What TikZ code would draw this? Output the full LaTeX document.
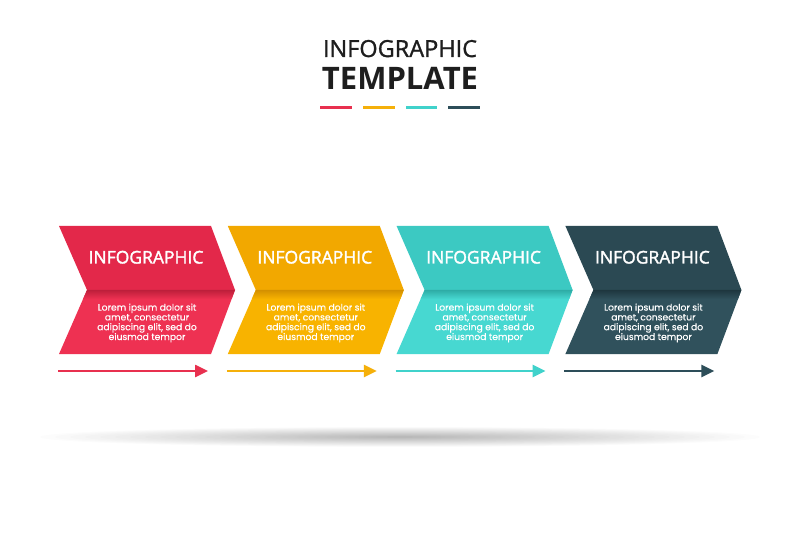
\documentclass[tikz,border=0pt]{standalone}
\usepackage{fontspec}
\setmainfont{Open Sans}
\newfontfamily\headfont{Open Sans}[FakeBold=1.8]
\newfontfamily\titlefont{Open Sans}[FakeBold=1.2]
\newfontfamily\loremfont{Poppins}[FakeBold=0.4]
\usetikzlibrary{arrows.meta}
\definecolor{redT}{HTML}{E3284A}
\definecolor{redB}{HTML}{EE3152}
\definecolor{redF}{HTML}{B81D38}
\definecolor{redA}{HTML}{E8304F}
\definecolor{yelT}{HTML}{F2A800}
\definecolor{yelB}{HTML}{F8B300}
\definecolor{yelF}{HTML}{D08C00}
\definecolor{yelA}{HTML}{F5B00A}
\definecolor{tealT}{HTML}{3CC9C2}
\definecolor{tealB}{HTML}{47D8D1}
\definecolor{tealF}{HTML}{2BA7A1}
\definecolor{tealA}{HTML}{40D2CB}
\definecolor{darkT}{HTML}{2B4953}
\definecolor{darkB}{HTML}{30515C}
\definecolor{darkF}{HTML}{1C333B}
\definecolor{darkA}{HTML}{2D4E59}
\definecolor{titleC}{HTML}{1E1E1E}
\tikzset{
  head/.style={text=white, inner sep=0pt, anchor=base, font=\headfont\fontsize{17.5}{20}\selectfont},
  body/.style={text=white, inner sep=0pt, align=center, font=\loremfont\fontsize{9.2}{9.8}\selectfont},
  dashline/.style={line width=3pt},
  timeline/.style={line width=2.5pt, -{Triangle[length=13pt,width=12pt]}},
  shadowlayer/.style={fill=black, fill opacity=0.012},
}
\begin{document}
\begin{tikzpicture}[x=1pt,y=-1pt]
\useasboundingbox (0,0) rectangle (800,534);
\fill[white] (0,0) rectangle (800,534);
% shadow
\foreach \k in {1,...,24} {
  \fill[shadowlayer] (400,437) ellipse [x radius={15*\k}, y radius={0.42*\k}];
}
% title
\node[anchor=base, inner sep=0pt, text=titleC, font=\titlefont\fontsize{23.5}{28}\selectfont] (t1) at (400,57) {INFOGRAPHIC};
\node[anchor=base, inner sep=0pt, text=titleC, font=\fontsize{31}{36}\selectfont\bfseries] (t2) at (400,90) {TEMPLATE};
% dashes
\coordinate (d1a) at (320,108); \coordinate (d1b) at (352,108);
\coordinate (d2a) at (363,108); \coordinate (d2b) at (395,108);
\coordinate (d3a) at (406,108); \coordinate (d3b) at (437,108);
\coordinate (d4a) at (448,108); \coordinate (d4b) at (480,108);
\draw[dashline, redA] (d1a) -- (d1b);
\draw[dashline, yelA] (d2a) -- (d2b);
\draw[dashline, tealA] (d3a) -- (d3b);
\draw[dashline, darkA] (d4a) -- (d4b);
% chevrons
\foreach \i/\ct/\cb/\cf/\ca in {0/redT/redB/redF/redA, 1/yelT/yelB/yelF/yelA, 2/tealT/tealB/tealF/tealA, 3/darkT/darkB/darkF/darkA} {
  \pgfmathsetmacro\xo{59+168.8*\i}
  \fill[\ct] (\xo,226) -- (\xo+152,226) -- (\xo+176,290) -- (\xo+28,290) -- cycle;
  \fill[\cb] (\xo+28,290) -- (\xo+176,290) -- (\xo+152,354) -- (\xo,354) -- cycle;
  \begin{scope}
    \clip (\xo+28,290) -- (\xo+176,290) -- (\xo+152,354) -- (\xo,354) -- cycle;
    \shade[top color=\cf, bottom color=\cb] (\xo-5,289) rectangle (\xo+180,299);
  \end{scope}
  \node[head] (h\i) at (\xo+87,263.5) {INFOGRAPHIC};
  \node[body] (b\i) at (\xo+88,323) {Lorem ipsum dolor sit\\amet, consectetur\\adipiscing elit, sed do\\eiusmod tempor};
  \coordinate (as\i) at (\xo-1,371);
  \coordinate (ae\i) at (\xo+149,371);
  \draw[timeline, \ca] (as\i) -- (ae\i);
}
\end{tikzpicture}
\end{document}
